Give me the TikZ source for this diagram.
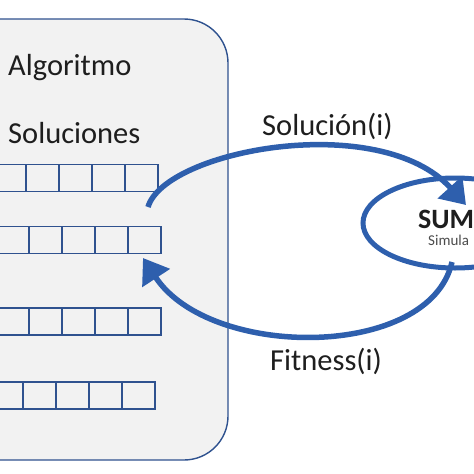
\documentclass[tikz,border=0pt]{standalone}
\usepackage{fontspec}
\setmainfont{Carlito}
\usepackage{xcolor}
\usepackage{tikz}
\usetikzlibrary{arrows.meta, positioning, calc, shapes.geometric}
\definecolor{panelbg}{HTML}{F2F2F2}
\definecolor{navy}{HTML}{2F528F}
\definecolor{flow}{HTML}{2E5FAD}
\definecolor{inkgray}{HTML}{1E1E1E}

\begin{document}
\begin{tikzpicture}[
  x=1pt, y=-1pt,
  panel/.style={draw=navy, fill=panelbg, line width=1.4pt, rounded corners=44pt,
                minimum width=300pt, minimum height=441pt, inner sep=0pt},
  cell/.style={draw=navy, line width=1.4pt, minimum width=33pt, minimum height=27pt,
               inner sep=0pt},
  label/.style={anchor=base west, inner sep=0pt, text=inkgray,
                font=\fontsize{30.5}{33}\selectfont},
  ring/.style={draw=flow, line width=5pt, ellipse, minimum width=184pt,
               minimum height=90pt, inner sep=0pt},
  arr/.style={-{Triangle[length=24pt, width=32pt]}, line width=5.5pt, color=flow}
]
  \useasboundingbox (0,0) rectangle (474,474);
  \clip (0,0) rectangle (474,474);

  % algorithm panel
  \node[panel] (algo) at (78,239.5) {};
  \node[label] (alg) at (8,75) {Algoritmo};
  \node[label] (sols) at (8,143) {Soluciones};

  % solution rows
  \foreach \r/\yc/\xr in {1/178/158, 2/240/161, 3/321.5/161, 4/395.5/155} {
    \foreach \k in {1,...,6} {
      \node[cell] (c\r-\k) at ({\xr-(\k-0.5)*33}, \yc) {};
    }
  }

  % simulator
  \node[ring] (sumo) at (455,223) {};
  \node[anchor=base west, inner sep=0pt, text=inkgray,
        font=\fontsize{28}{30}\selectfont\bfseries] (sumname) at (418,228) {SUM};
  \node[anchor=base west, inner sep=0pt, text=inkgray!80,
        font=\fontsize{15}{16}\selectfont] (sumsub) at (428,245) {Simula};

  \coordinate (solout) at (148,207);
  \coordinate (soltip) at ($(sumo.center)+(11,-18)$);
  \coordinate (fitout) at ($(sumo.center)+(-3,39)$);
  \coordinate (fittip) at (143,258);

  \draw[arr] (solout) .. controls (165,150) and (380,110) .. (soltip);
  \draw[arr] (fitout) .. controls (430,360) and (210,360) .. (fittip);

  \node[label] (sollab) at (262,135) {Solución(i)};
  \node[label] (fitlab) at (270,370) {Fitness(i)};
\end{tikzpicture}
\end{document}
